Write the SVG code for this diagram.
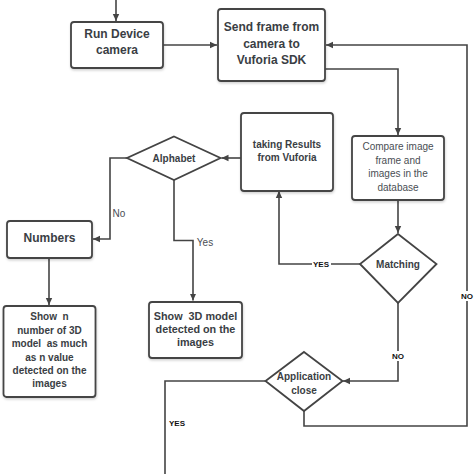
<svg xmlns="http://www.w3.org/2000/svg" width="474" height="474" viewBox="0 0 474 474">
<defs>
<marker id="arr" markerWidth="8" markerHeight="8" refX="7" refY="4" orient="auto" markerUnits="userSpaceOnUse">
<path d="M0,0.8 L7,4 L0,7.2 Z" fill="#444"/>
</marker>
<filter id="sh" x="-10%" y="-10%" width="130%" height="130%">
<feDropShadow dx="0.5" dy="1.5" stdDeviation="1.2" flood-color="#000" flood-opacity="0.18"/>
</filter>
<style>
.box{fill:#fff;stroke:#444;stroke-width:1.8;filter:url(#sh)}
.dia{fill:#fff;stroke:#444;stroke-width:1.8}
.ln{fill:none;stroke:#444;stroke-width:1.6}
.t{font-family:"Liberation Sans",Arial,sans-serif;font-weight:bold;fill:#3a3e44;text-anchor:middle}
.r{font-family:"Liberation Sans",Arial,sans-serif;fill:#4a4e54;text-anchor:middle}
.lb{font-family:"Liberation Sans",Arial,sans-serif;font-weight:bold;fill:#111;font-size:8px;text-anchor:middle}
</style>
</defs>
<rect width="474" height="474" fill="#fff"/>
<g id="connectors">
<path class="ln" d="M116,0 V21" marker-end="url(#arr)"/>
<path class="ln" d="M163,45 H217" marker-end="url(#arr)"/>
<path class="ln" d="M325,69 H398 V135" marker-end="url(#arr)"/>
<path class="ln" d="M398,200 V233" marker-end="url(#arr)"/>
<path class="ln" d="M360,264 H279 V191" marker-end="url(#arr)"/>
<path class="ln" d="M241,158 H221.5" marker-end="url(#arr)"/>
<path class="ln" d="M127,158 H110 V239 H93" marker-end="url(#arr)"/>
<path class="ln" d="M174,180 V240.5 H193 V300.5" marker-end="url(#arr)"/>
<path class="ln" d="M49,258 V305" marker-end="url(#arr)"/>
<path class="ln" d="M398,303 V381 H343" marker-end="url(#arr)"/>
<path class="ln" d="M304,411 V426 H467 V45 H326" marker-end="url(#arr)"/>
<path class="ln" d="M265,381 H165 V474"/>
<rect x="112" y="207" width="14" height="12" fill="#fff"/>
<text class="r" x="119" y="216.5" font-size="10">No</text>
<rect x="195" y="237" width="20" height="12" fill="#fff"/>
<text class="r" x="205" y="246" font-size="10">Yes</text>
<rect x="312" y="259" width="19" height="10" fill="#fff"/>
<text class="lb" x="321" y="267">YES</text>
<rect x="390" y="351" width="16" height="10" fill="#fff"/>
<text class="lb" x="398" y="359">NO</text>
<rect x="460" y="291" width="14" height="10" fill="#fff"/>
<text class="lb" x="467" y="299">NO</text>
<text class="lb" x="177" y="426">YES</text>
</g>
<g id="run-device">
<rect class="box" x="71" y="22" width="92" height="46" rx="3"/>
<text class="t" font-size="12" x="117" y="38">Run Device</text>
<text class="t" font-size="12" x="117" y="54">camera</text>
</g>
<g id="send-frame">
<rect class="box" x="218" y="9" width="107" height="72" rx="3"/>
<text class="t" font-size="12" x="271.5" y="31">Send frame from</text>
<text class="t" font-size="12" x="271.5" y="48">camera to</text>
<text class="t" font-size="12" x="271.5" y="64">Vuforia SDK</text>
</g>
<g id="compare">
<rect class="box" x="352" y="136" width="92" height="64" rx="3"/>
<text class="r" font-size="10" x="398" y="150">Compare image</text>
<text class="r" font-size="10" x="398" y="163.5">frame and</text>
<text class="r" font-size="10" x="398" y="177">images in the</text>
<text class="r" font-size="10" x="398" y="190.5">database</text>
</g>
<g id="taking-results">
<rect class="box" x="241" y="113" width="92" height="78" rx="3"/>
<text class="t" font-size="10" x="287" y="148">taking Results</text>
<text class="t" font-size="10" x="287" y="161">from Vuforia</text>
</g>
<g id="matching">
<path class="dia" d="M398,234 L436.5,264 L398,303 L360,264 Z"/>
<text class="t" font-size="10" x="398" y="267.5">Matching</text>
</g>
<g id="alphabet">
<path class="dia" d="M174,136.5 L220.5,158 L174,180 L127,158 Z"/>
<text class="t" font-size="10" x="174" y="161.5">Alphabet</text>
</g>
<g id="numbers">
<rect class="box" x="7" y="221" width="85" height="37" rx="3"/>
<text class="t" font-size="12" x="49.5" y="242">Numbers</text>
</g>
<g id="show-3d">
<rect class="box" x="149" y="302" width="93" height="56" rx="3"/>
<text class="t" font-size="10.8" x="195.5" y="319.5" xml:space="preserve">Show  3D model</text>
<text class="t" font-size="10.8" x="195.5" y="332.5">detected on the</text>
<text class="t" font-size="10.8" x="195.5" y="346">images</text>
</g>
<g id="show-n">
<rect class="box" x="3.5" y="306" width="92" height="91" rx="3"/>
<text class="t" font-size="10" x="49.5" y="320" xml:space="preserve">Show  n</text>
<text class="t" font-size="10" x="49.5" y="333.5">number of 3D</text>
<text class="t" font-size="10" x="49.5" y="347" xml:space="preserve">model  as much</text>
<text class="t" font-size="10" x="49.5" y="360.5">as n value</text>
<text class="t" font-size="10" x="49.5" y="374">detected on the</text>
<text class="t" font-size="10" x="49.5" y="387">images</text>
</g>
<g id="app-close">
<path class="dia" d="M304,352 L342.5,381 L304,411 L265.5,381 Z"/>
<text class="t" font-size="10" x="304" y="380">Application</text>
<text class="t" font-size="10" x="304" y="393.5">close</text>
</g>
</svg>
